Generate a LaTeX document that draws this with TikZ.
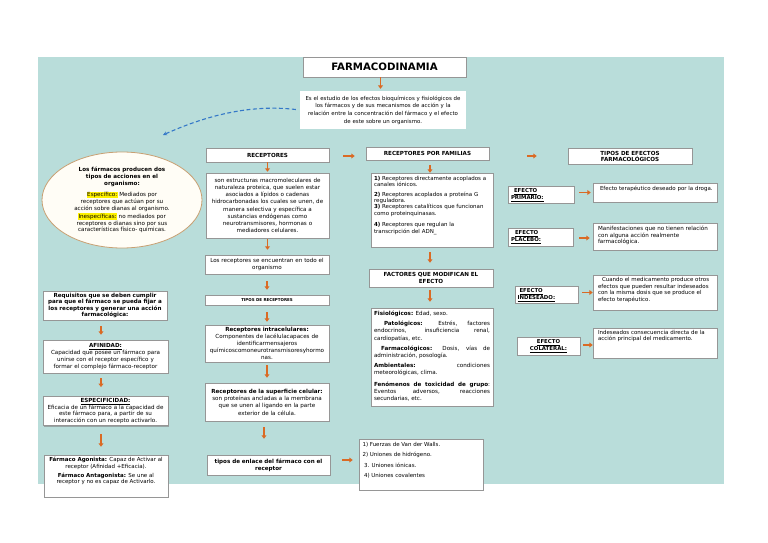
\documentclass[tikz,border=0pt]{standalone}
\usepackage{fontspec}
\setmainfont{DejaVu Sans}
\usetikzlibrary{arrows.meta,shadows,shapes.geometric}
\definecolor{tealbg}{RGB}{185,221,218}
\definecolor{arrorange}{RGB}{218,106,36}
\definecolor{dashblue}{RGB}{52,120,200}
\definecolor{elborder}{RGB}{200,160,115}
\definecolor{elfill}{RGB}{255,253,246}
\definecolor{boxborder}{RGB}{150,150,150}
\newcommand{\mytb}[3]{\begin{minipage}[c][#1][t]{#2}#3\end{minipage}}
\newcommand{\myhl}[1]{{\setlength{\fboxsep}{0.4pt}\colorbox{yellow}{#1}}}
\begin{document}
\begin{tikzpicture}[x=1pt,y=-1pt,
  box/.style={draw=boxborder, fill=white, line width=0.5pt, inner sep=2pt,
    drop shadow={shadow xshift=0.9pt, shadow yshift=-0.9pt, fill=black!50, opacity=0.6}},
  arr/.style={draw=arrorange, line width=1.3pt, -{Triangle[length=3.4pt,width=4.8pt]}},
  txt/.style={font=\fontsize{5.6}{7.2}\selectfont},
  hd/.style={font=\fontsize{5.6}{6.6}\selectfont\bfseries},
]
\fill[white] (0,0) rectangle (768,543);
\fill[tealbg] (38,57) rectangle (724,484);
\useasboundingbox (0,0) rectangle (768,543);

% title and definition
\node[box, minimum width=163pt, minimum height=20pt, inner sep=0pt, font=\fontsize{10.2}{12}\selectfont\bfseries] (title) at (384.5,67) {FARMACODINAMIA};
\node[fill=white, minimum width=166pt, minimum height=38pt, text width=166pt, inner sep=0pt, align=center, font=\fontsize{5.45}{7.6}\selectfont] (def) at (383,110) {Es el estudio de los efectos bioquímicos y fisiológicos de\\los fármacos y de sus mecanismos de acción y la\\relación entre la concentración del fármaco y el efecto\\de este sobre un organismo.};
\draw[arr, shorten >=2pt] ([xshift=-4pt]title.south) -- ([xshift=-4pt]title.south |- def.north);

\coordinate (dashend) at (163,135);
\draw[dashblue, line width=1.1pt, dash pattern=on 4pt off 2.5pt, -{Stealth[length=4pt,width=4pt]}, shorten <=4pt] (def.west) .. controls (250,104) and (205,116) .. (dashend);

% ellipse
\node[ellipse, draw=elborder, fill=elfill, line width=0.8pt, minimum width=160pt, minimum height=96pt, inner sep=0pt, align=center, font=\fontsize{5.6}{6.8}\selectfont] (elli) at (122,200) {\textbf{Los fármacos producen dos}\\\textbf{tipos de acciones en el}\\\textbf{organismo:}\\[5pt]\myhl{Específico:} Mediados por\\receptores que actúan por su\\acción sobre dianas al organismo.\\[1pt]\myhl{Inespecíficas:} no mediados por\\receptores o dianas sino por sus\\características físico- químicas.};

% column 2
\node[box, minimum width=123pt, minimum height=14pt, hd] (rec) at (267.5,155) {RECEPTORES};
\node[box, minimum width=123pt, minimum height=65pt, text width=119pt, align=center, txt] (recdesc) at (267.5,205.5) {son estructuras macromoleculares de\\naturaleza proteica, que suelen estar\\asociados a lípidos o cadenas\\hidrocarbonadas los cuales se unen, de\\manera selectiva y específica a\\sustancias endógenas como\\neurotransmisores, hormonas o\\mediadores celulares.};
\node[box, minimum width=124pt, minimum height=19pt, text width=120pt, align=center, font=\fontsize{5.6}{6.6}\selectfont] (recorg) at (267,264.5) {Los receptores se encuentran en todo el\\organismo};
\node[box, minimum width=124pt, minimum height=10pt, inner sep=0pt, font=\fontsize{4}{5}\selectfont\bfseries] (tiposrec) at (267,300) {TIPOS DE RECEPTORES};
\node[box, minimum width=124pt, minimum height=37pt, text width=122pt, inner sep=1pt, align=center, font=\fontsize{5.6}{7.1}\selectfont] (intra) at (267,343.5) {\textbf{Receptores intracelulares:}\\Componentes de lacélulacapaces de\\identificarmensajeros\\químicoscomoneurotransmisoresyhormo\\nas.};
\node[box, minimum width=124pt, minimum height=38pt, text width=120pt, align=center, font=\fontsize{5.6}{7.3}\selectfont] (superf) at (267,402) {\textbf{Receptores de la superficie celular:}\\son proteínas ancladas a la membrana\\que se unen al ligando en la parte\\exterior de la célula.};
\node[box, minimum width=123pt, minimum height=20pt, text width=119pt, align=center, font=\fontsize{5.6}{6.7}\selectfont\bfseries] (enlace) at (268.5,465) {tipos de enlace del fármaco con el\\receptor};

% column 3
\node[box, minimum width=123pt, minimum height=13pt, hd] (famhead) at (427.5,153.5) {RECEPTORES POR FAMILIAS};
\node[box, inner sep=3pt] (famdesc) at (432,210) {\mytb{68pt}{116pt}{\fontsize{5.5}{6.3}\selectfont \textbf{1)} Receptores directamente acoplados a\\canales iónicos.\\[3.5pt]\textbf{2)} Receptores acoplados a proteína G\\reguladora.\\\textbf{3)} Receptores catalíticos que funcionan\\como proteinquinasas.\\[5.5pt]\textbf{4)} Receptores que regulan la\\transcripción del ADN\_}};
\node[box, minimum width=124pt, minimum height=18pt, text width=120pt, align=center, font=\fontsize{5.6}{7.3}\selectfont\bfseries] (factorhead) at (431,278) {FACTORES QUE MODIFICAN EL\\EFECTO};
\node[box, inner sep=3pt] (factors) at (432,357) {\mytb{92pt}{116pt}{\fontsize{5.6}{7.2}\selectfont
\textbf{Fisiológicos:} Edad, sexo.\par\vspace{3pt}
\hspace*{10pt}\textbf{Patológicos:} Estrés, factores\linebreak endocrinos, insuficiencia renal,\linebreak cardiopatías, etc.\par\vspace{3pt}
\hspace*{7pt}\textbf{Farmacológicos:} Dosis, vías de\linebreak administración, posología.\par\vspace{3pt}
\textbf{Ambientales:} condiciones\linebreak meteorológicas, clima.\par\vspace{4pt}
\textbf{Fenómenos de toxicidad de grupo}:\linebreak Eventos adversos, reacciones\linebreak secundarias, etc.}};
\node[box, inner xsep=3.5pt, inner ysep=3pt] (enlist) at (421,464.5) {\mytb{45pt}{117pt}{\fontsize{5.5}{10.6}\selectfont 1) Fuerzas de Van der Walls.\\2) Uniones de hidrógeno.\\\hspace*{1.5pt}3. Uniones iónicas.\\\hspace*{1.5pt}4) Uniones covalentes}};

% column 4
\node[box, minimum width=124pt, minimum height=16pt, text width=120pt, align=center, font=\fontsize{5.6}{6}\selectfont\bfseries] (efhead) at (630,156) {TIPOS DE EFECTOS\\FARMACOLÓGICOS};
\node[box, minimum width=66pt, minimum height=16pt, text width=60pt, align=left, font=\fontsize{5.4}{6.6}\selectfont\bfseries] (prim) at (541,195) {\hspace*{3pt}\underline{EFECTO}\\\underline{PRIMARIO:}};
\node[box, inner xsep=4pt, inner ysep=3pt] (primdesc) at (655,192.5) {\mytb{13pt}{116pt}{\fontsize{5.5}{6.7}\selectfont\mbox{\hspace*{3pt}Efecto terapéutico deseado por la droga.}}};
\node[box, minimum width=65pt, minimum height=18pt, text width=59pt, align=left, font=\fontsize{5.4}{6.6}\selectfont\bfseries] (plac) at (540.5,237) {\hspace*{4pt}\underline{EFECTO}\\\underline{PLACEBO:}};
\node[box, inner xsep=5pt, inner ysep=3pt] (placdesc) at (655,236.5) {\mytb{21pt}{114pt}{\fontsize{5.6}{6.7}\selectfont Manifestaciones que no tienen relación\\con alguna acción realmente\\farmacológica.}};
\node[box, minimum width=63pt, minimum height=16pt, text width=58pt, align=left, font=\fontsize{5.4}{6.6}\selectfont\bfseries] (indes) at (546.5,295) {\hspace*{2pt}\underline{EFECTO}\\\underline{INDESEADO:}};
\node[box, inner xsep=5pt, inner ysep=2.5pt] (indesdesc) at (655,292.5) {\mytb{30pt}{114pt}{\fontsize{5.5}{6.6}\selectfont\hspace*{4pt}Cuando el medicamento produce otros\\efectos que pueden resultar indeseados\\con la misma dosis que se produce el\\efecto terapéutico.}};
\node[box, minimum width=63pt, minimum height=18pt, text width=58pt, align=center, font=\fontsize{5.4}{6.6}\selectfont\bfseries] (colat) at (548.5,346) {\underline{EFECTO}\\\underline{COLATERAL:}};
\node[box, inner xsep=5pt, inner ysep=2pt] (colatdesc) at (655,343) {\mytb{26pt}{114pt}{\fontsize{5.5}{6.6}\selectfont Indeseados consecuencia directa de la\\acción principal del medicamento.}};

% column 1
\node[box, minimum width=124pt, minimum height=27pt, text width=120pt, align=center, font=\fontsize{5.6}{6.5}\selectfont\bfseries] (req) at (105,305.5) {Requisitos que se deben cumplir\\para que el fármaco se pueda fijar a\\los receptores y generar una acción\\farmacológica:};
\node[box, minimum width=125pt, minimum height=33pt, text width=121pt, align=center, font=\fontsize{5.6}{6.8}\selectfont] (afin) at (105.5,356.5) {\underline{\textbf{AFINIDAD:}}\\Capacidad que posee un fármaco para\\unirse con el receptor específico y\\formar el complejo fármaco-receptor};
\node[box, minimum width=125pt, minimum height=28pt, text width=121pt, align=center, font=\fontsize{5.6}{6.7}\selectfont] (esp) at (105.5,411) {\underline{\textbf{ESPECIFICIDAD:}}\\Eficacia de un fármaco a la capacidad de\\este fármaco para, a partir de su\\interacción con un recepto activarlo.};
\node[box, inner xsep=2pt, inner ysep=2.5pt] (ago) at (106,476) {\mytb{37pt}{120pt}{\centering\fontsize{5.5}{6.1}\selectfont \textbf{Fármaco Agonista:} Capaz de Activar al\\receptor (Afinidad +Eficacia).\\[3pt]\textbf{Fármaco Antagonista:} Se une al\\receptor y no es capaz de Activarlo.\par}};

% arrows column 2
\draw[arr, shorten >=1pt] (rec.south) -- (rec.south |- recdesc.north);
\draw[arr, shorten <=1pt, shorten >=5pt] (recdesc.south) -- (recdesc.south |- recorg.north);
\draw[arr, shorten <=7pt, shorten >=5pt] (recorg.south) -- (recorg.south |- tiposrec.north);
\draw[arr, shorten <=7pt, shorten >=3pt] (tiposrec.south) -- (tiposrec.south |- intra.north);
\draw[arr, shorten <=3pt, shorten >=5pt] (intra.south) -- (intra.south |- superf.north);
\draw[arr, shorten <=6pt, shorten >=16pt] ([xshift=-3pt]superf.south) -- ([xshift=-3pt]superf.south |- enlace.north);
\draw[arr, shorten <=12pt, shorten >=6pt] ([yshift=5pt]enlace.east) -- ([yshift=5pt]enlace.east -| enlist.west);
\draw[arr, shorten <=14pt, shorten >=11pt] ([yshift=-1pt]rec.east) -- ([yshift=-1pt]rec.east -| famhead.west);
% arrows column 3
\draw[arr, shorten <=38pt, shorten >=31pt] (famhead.east |- efhead.west) -- (efhead.west);
\draw[arr, shorten <=5pt] ([xshift=2.5pt]famhead.south) -- ([xshift=2.5pt]famhead.south |- famdesc.north);
\draw[arr, shorten <=5pt, shorten >=6pt] ([xshift=-2pt]famdesc.south) -- ([xshift=-2pt]famdesc.south |- factorhead.north);
\draw[arr, shorten <=3pt, shorten >=6pt] ([xshift=-1pt]factorhead.south) -- ([xshift=-1pt]factorhead.south |- factors.north);
% arrows column 4
\draw[arr, shorten <=5pt, shorten >=2pt] (prim.east |- primdesc.west) -- (primdesc.west);
\draw[arr, shorten <=6pt, shorten >=3pt] ([yshift=-1pt]plac.east) -- ([yshift=-1pt]plac.east -| placdesc.west);
\draw[arr, shorten <=4pt, shorten >=0pt] (indes.east |- indesdesc.west) -- (indesdesc.west);
\draw[arr, shorten <=3pt, shorten >=0pt] ([yshift=1pt]colat.east) -- ([yshift=1pt]colat.east -| colatdesc.west);
% arrows column 1
\draw[arr, shorten <=6pt, shorten >=5pt] ([xshift=-4pt]req.south) -- ([xshift=-4pt]req.south |- afin.north);
\draw[arr, shorten <=5pt, shorten >=9pt] ([xshift=-4.5pt]afin.south) -- ([xshift=-4.5pt]afin.south |- esp.north);
\draw[arr, shorten <=8pt, shorten >=8pt] ([xshift=-4.5pt]esp.south) -- ([xshift=-4.5pt]esp.south |- ago.north);
\end{tikzpicture}
\end{document}
